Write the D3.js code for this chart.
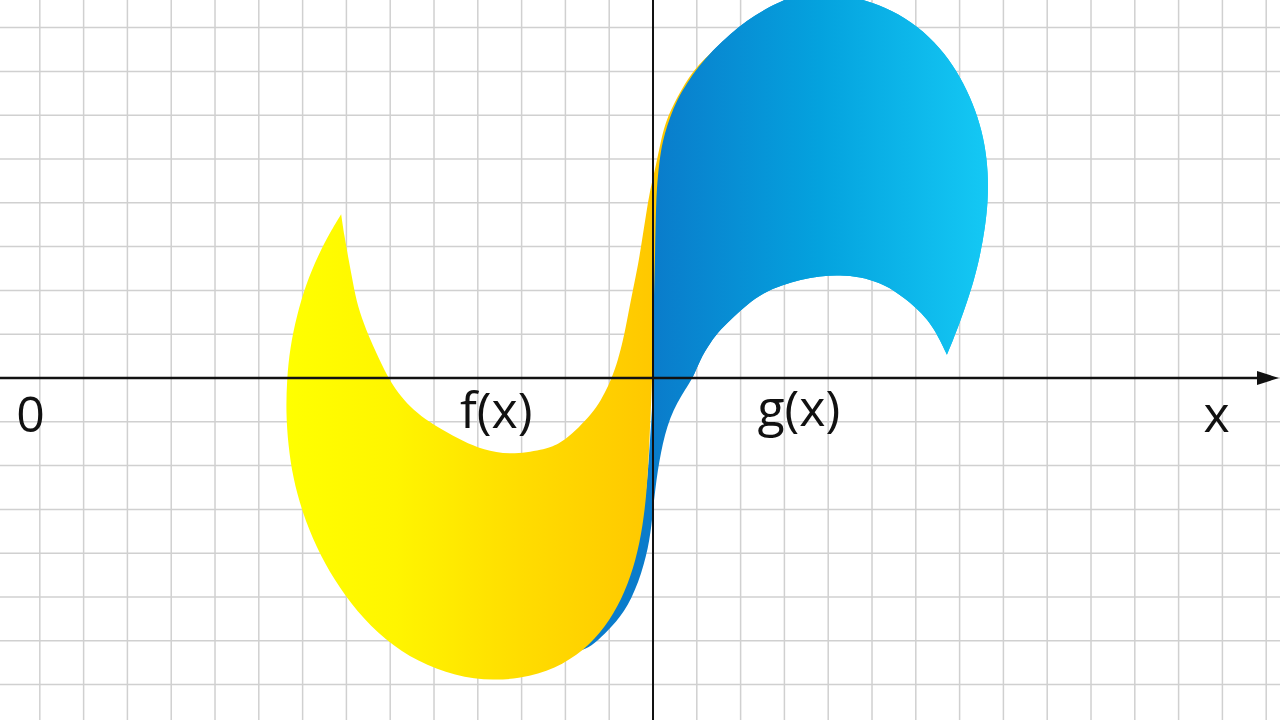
<!DOCTYPE html>
<html>
<head>
<meta charset="utf-8">
<script src="https://cdnjs.cloudflare.com/ajax/libs/d3/7.8.5/d3.min.js"></script>
<style>
  html, body { margin: 0; padding: 0; background: #fff; overflow: hidden; }
  svg { display: block; }
</style>
</head>
<body>
<div id="page"></div>
<script>
var width = 1280,
    height = 720;

// grid lines, one per unit
var gridX = d3.range(-14, 15),
    gridY = d3.range(-7, 9);

// labels under the axis
var labels = ['0', 'f(x)', 'g(x)', 'x'],
    labelX = [-14.21, -3.58, 3.33, 12.87],
    labelY = [-1.23, -1.14, -1.09, -1.23];

// f(x) band, both edges run from the tip to the top end
var fOuter = [
  [-7.12, 3.74], [-7.37, 3.33], [-7.65, 2.79], [-7.92, 2.15], [-8.13, 1.44],
  [-8.29, 0.68], [-8.36, -0.05], [-8.38, -0.78], [-8.33, -1.53], [-8.22, -2.28],
  [-8.01, -3.06], [-7.69, -3.86], [-7.28, -4.61], [-6.76, -5.34], [-6.12, -5.98],
  [-5.37, -6.48], [-4.52, -6.80], [-3.65, -6.92], [-2.81, -6.83], [-2.05, -6.55],
  [-1.44, -6.10], [-0.98, -5.53], [-0.64, -4.89], [-0.39, -4.16], [-0.23, -3.36],
  [-0.14, -2.56], [-0.09, -1.64], [-0.05, -0.73], [-0.02, 0.00], [0.02, 1.10],
  [0.07, 2.24], [0.16, 3.38], [0.34, 4.52], [0.62, 5.66], [1.03, 6.69],
  [1.64, 7.60], [2.44, 8.29], [3.36, 8.74], [4.27, 9.09]
];
var fInner = [
  [-7.12, 3.74], [-7.05, 3.26], [-6.96, 2.76], [-6.85, 2.17], [-6.74, 1.62],
  [-6.55, 1.10], [-6.35, 0.64], [-6.05, 0.00], [-5.82, -0.34], [-5.55, -0.66],
  [-5.21, -0.94], [-4.79, -1.19], [-4.34, -1.44], [-3.88, -1.64], [-3.26, -1.76],
  [-2.51, -1.64], [-2.15, -1.51], [-1.85, -1.28], [-1.55, -0.98], [-1.28, -0.66],
  [-1.10, -0.34], [-0.94, 0.00], [-0.80, 0.41], [-0.68, 0.87], [-0.57, 1.44],
  [-0.46, 2.01], [-0.34, 2.58], [-0.25, 3.15], [-0.16, 3.72], [-0.07, 4.29],
  [0.07, 4.86], [0.18, 5.43], [0.32, 5.96], [0.64, 6.58], [1.00, 7.15],
  [1.62, 7.67], [2.26, 8.17], [3.13, 8.63], [4.27, 9.09]
];

// g(x) band, both edges run from the tip to the end of the tail
var gOuter = [
  [6.71, 0.53], [6.85, 0.87], [7.01, 1.28], [7.17, 1.74], [7.33, 2.24],
  [7.47, 2.81], [7.58, 3.42], [7.65, 4.06], [7.65, 4.70], [7.58, 5.32],
  [7.42, 5.96], [7.17, 6.58], [6.85, 7.15], [6.44, 7.67], [5.91, 8.13],
  [5.30, 8.47], [4.61, 8.70], [3.93, 8.81], [3.36, 8.74], [2.97, 8.63],
  [2.56, 8.42], [2.15, 8.17], [1.76, 7.85], [1.37, 7.49], [1.03, 7.10],
  [0.78, 6.74], [0.55, 6.35], [0.39, 5.96], [0.27, 5.59], [0.18, 5.21],
  [0.11, 4.63], [0.07, 4.06], [0.05, 2.92], [0.02, 1.78], [0.00, 0.87],
  [0.00, 0.00], [-0.02, -0.73], [-0.07, -1.42], [-0.11, -2.10], [-0.18, -2.79],
  [-0.30, -3.47], [-0.43, -4.16], [-0.66, -4.79], [-0.98, -5.39], [-1.39, -5.89],
  [-1.85, -6.26]
];
var gInner = [
  [6.71, 0.53], [6.55, 0.87], [6.39, 1.16], [6.14, 1.48], [5.80, 1.78],
  [5.48, 2.01], [5.18, 2.17], [4.73, 2.31], [4.27, 2.35], [3.81, 2.33],
  [3.36, 2.24], [2.95, 2.12], [2.51, 1.94], [2.17, 1.69], [1.83, 1.39],
  [1.55, 1.12], [1.30, 0.80], [1.07, 0.41], [0.91, 0.00], [0.73, -0.27],
  [0.55, -0.57], [0.39, -0.91], [0.27, -1.30], [0.18, -1.71], [0.11, -2.10],
  [0.05, -2.56], [0.00, -3.01], [-0.07, -3.70], [-0.25, -4.45], [-0.57, -5.23],
  [-0.94, -5.68], [-1.26, -6.00], [-1.55, -6.21], [-1.85, -6.26]
];

var x = d3.scaleLinear().domain([-14.909, 14.315]).range([0, width]),
    y = d3.scaleLinear().domain([-7.808, 8.630]).range([height, 0]);

var svg = d3.select('#page').append('svg')
    .attr('width', width)
    .attr('height', height);

var defs = svg.append('defs');

var fGrad = defs.append('linearGradient')
    .attr('id', 'fgrad')
    .attr('gradientUnits', 'userSpaceOnUse')
    .attr('x1', x(-8.4)).attr('y1', 0)
    .attr('x2', x(0)).attr('y2', 0);
fGrad.selectAll('stop')
    .data([[0, '#ffff00'], [0.3, '#fff500'], [0.65, '#ffdc00'], [1, '#ffc800']])
  .enter().append('stop')
    .attr('offset', function(d) { return d[0]; })
    .attr('stop-color', function(d) { return d[1]; });

var gGrad = defs.append('linearGradient')
    .attr('id', 'ggrad')
    .attr('gradientUnits', 'userSpaceOnUse')
    .attr('x1', x(0)).attr('y1', 0)
    .attr('x2', x(7.6)).attr('y2', 0);
gGrad.selectAll('stop')
    .data([[0, '#0a7ccb'], [0.5, '#04a2de'], [1, '#14c8f4']])
  .enter().append('stop')
    .attr('offset', function(d) { return d[0]; })
    .attr('stop-color', function(d) { return d[1]; });

// the blue band sits on top of the yellow above the axis only
defs.append('clipPath')
    .attr('id', 'upper')
  .append('rect')
    .attr('x', 0).attr('y', 0)
    .attr('width', width).attr('height', y(0));

// grid
svg.append('g').selectAll('line')
    .data(gridX)
  .enter().append('line')
    .attr('x1', function(d) { return x(d); })
    .attr('x2', function(d) { return x(d); })
    .attr('y1', 0).attr('y2', height)
    .style('stroke', '#d0d0d0')
    .style('stroke-width', 1.5);

svg.append('g').selectAll('line')
    .data(gridY)
  .enter().append('line')
    .attr('y1', function(d) { return y(d); })
    .attr('y2', function(d) { return y(d); })
    .attr('x1', 0).attr('x2', width)
    .style('stroke', '#d0d0d0')
    .style('stroke-width', 1.5);

var edge = d3.line()
    .x(function(d) { return x(d[0]); })
    .y(function(d) { return y(d[1]); })
    .curve(d3.curveBasis);

var bandPath = function(outer, inner) {
  return edge(outer) + edge(inner.slice().reverse()).replace(/^M/, 'L') + 'Z';
};

svg.append('path')
    .attr('d', bandPath(gOuter, gInner))
    .style('fill', 'url(#ggrad)');

svg.append('path')
    .attr('d', bandPath(fOuter, fInner))
    .style('fill', 'url(#fgrad)');

svg.append('path')
    .attr('d', bandPath(gOuter, gInner))
    .attr('clip-path', 'url(#upper)')
    .style('fill', 'url(#ggrad)');

// axes
svg.append('line')
    .attr('x1', x(0)).attr('x2', x(0))
    .attr('y1', 0).attr('y2', height)
    .style('stroke', '#111')
    .style('stroke-width', 2);

var xEnd = x.range()[1] - 1;
svg.append('line')
    .attr('x1', 0).attr('x2', xEnd - 18)
    .attr('y1', y(0)).attr('y2', y(0))
    .style('stroke', '#111')
    .style('stroke-width', 2.5);

svg.append('path')
    .attr('d', 'M' + xEnd + ',' + y(0) +
               'L' + (xEnd - 22) + ',' + (y(0) - 7) +
               'L' + (xEnd - 22) + ',' + (y(0) + 7) + 'Z')
    .style('fill', '#111');

svg.append('g').selectAll('text')
    .data(labels)
  .enter().append('text')
    .attr('x', function(d, i) { return x(labelX[i]); })
    .attr('y', function(d, i) { return y(labelY[i]); })
    .attr('text-anchor', 'middle')
    .style('font-family', '"Open Sans", sans-serif')
    .style('font-size', '50px')
    .style('fill', '#111')
    .text(function(d) { return d; });
</script>
</body>
</html>
